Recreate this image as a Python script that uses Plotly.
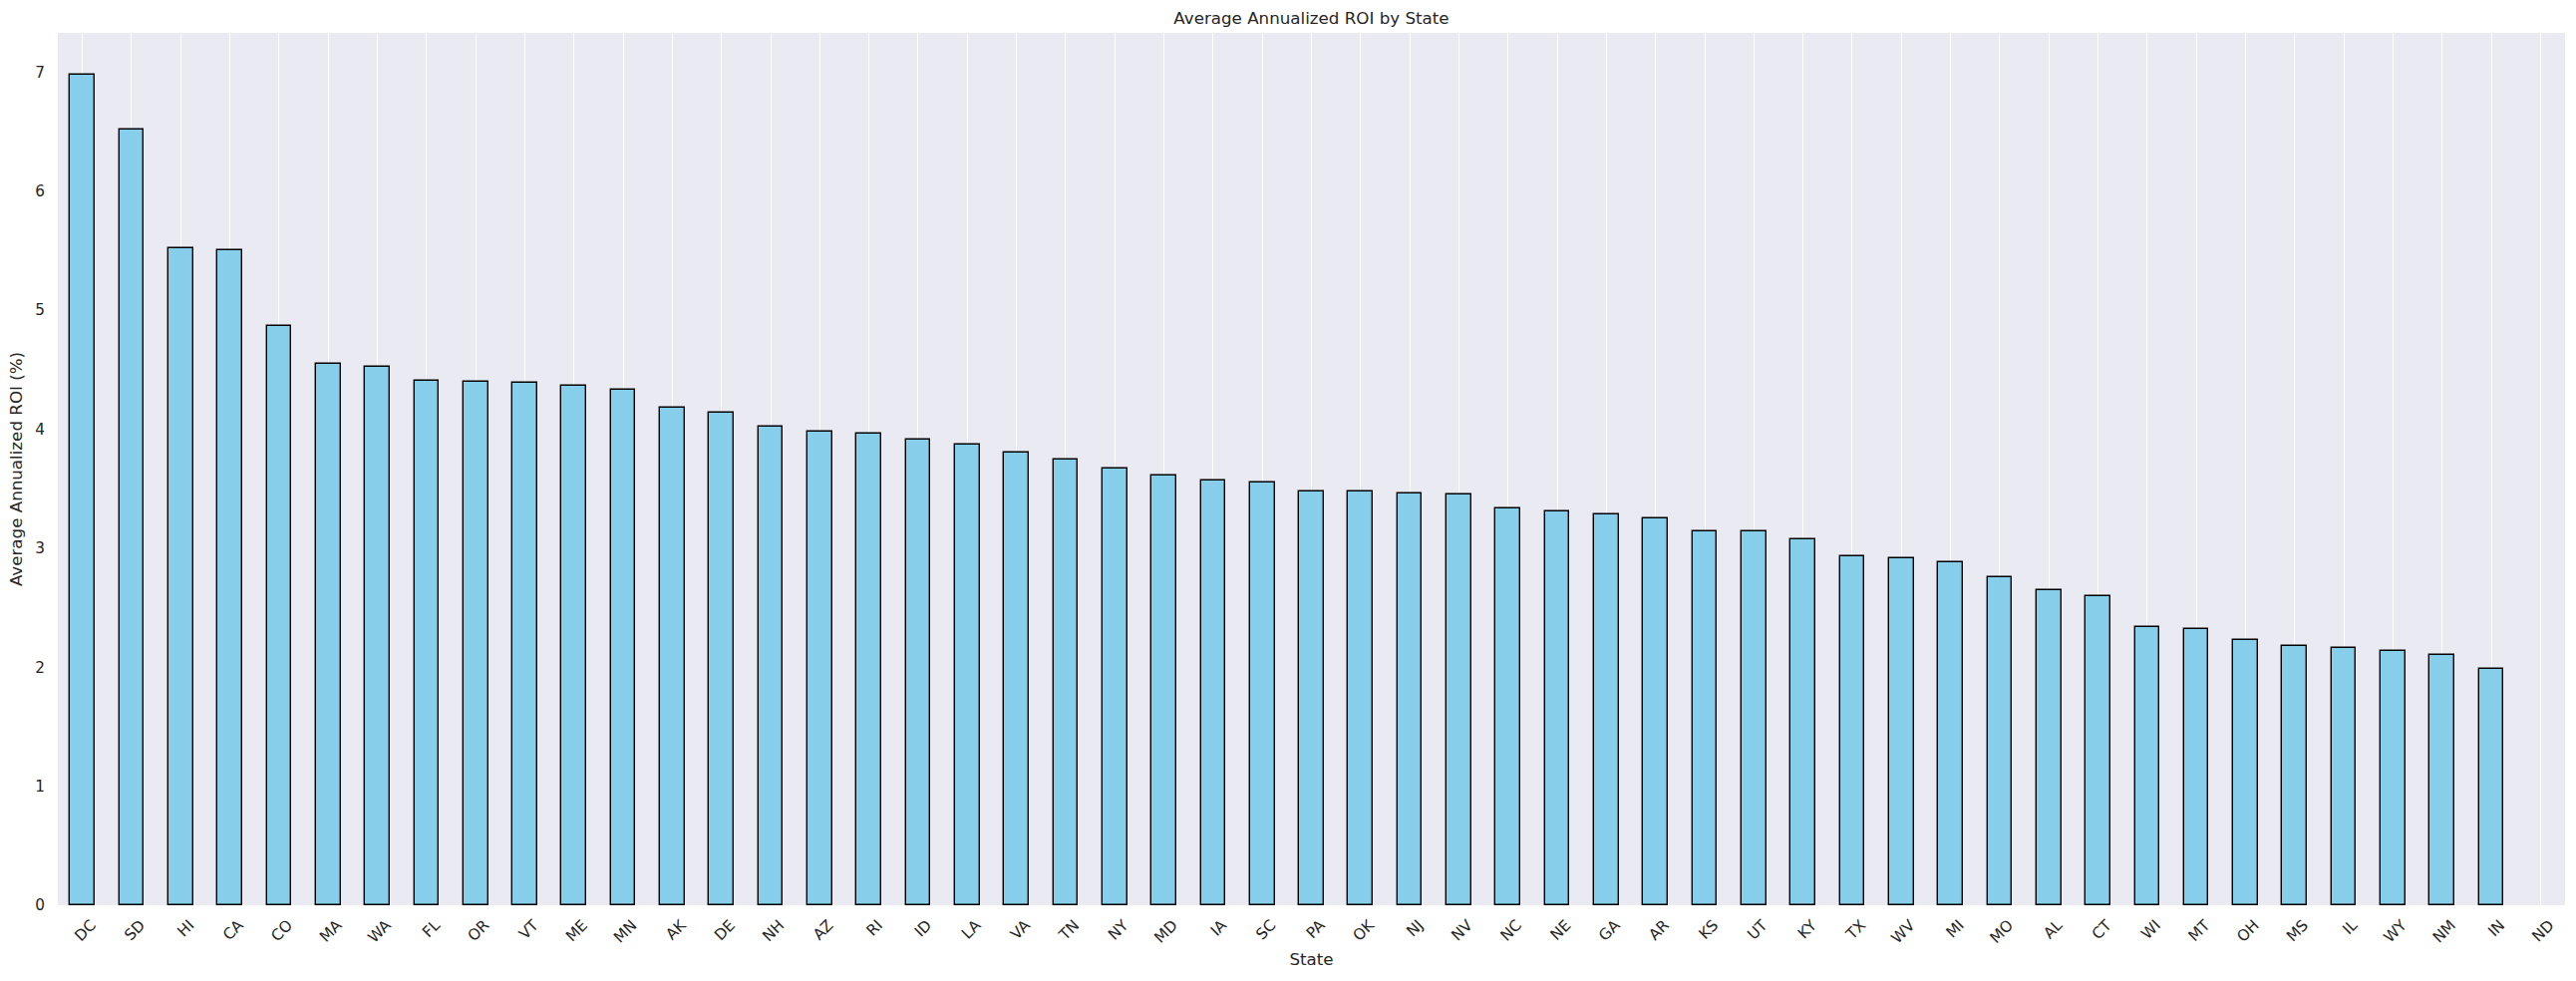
import plotly.graph_objects as go

states = ["DC", "SD", "HI", "CA", "CO", "MA", "WA", "FL", "OR", "VT", "ME", "MN", "AK", "DE",
          "NH", "AZ", "RI", "ID", "LA", "VA", "TN", "NY", "MD", "IA", "SC", "PA", "OK", "NJ",
          "NV", "NC", "NE", "GA", "AR", "KS", "UT", "KY", "TX", "WV", "MI", "MO", "AL", "CT",
          "WI", "MT", "OH", "MS", "IL", "WY", "NM", "IN", "ND"]
roi = [6.98, 6.52, 5.52, 5.50, 4.87, 4.545, 4.52, 4.41, 4.40, 4.385, 4.36, 4.33, 4.18, 4.14,
       4.02, 3.975, 3.965, 3.915, 3.87, 3.80, 3.745, 3.67, 3.61, 3.565, 3.55, 3.48, 3.48, 3.456,
       3.45, 3.33, 3.31, 3.28, 3.25, 3.14, 3.14, 3.07, 2.93, 2.915, 2.88, 2.755, 2.645, 2.60,
       2.335, 2.32, 2.225, 2.175, 2.16, 2.135, 2.10, 1.985, None]
y_ticks = [0, 1, 2, 3, 4, 5, 6, 7]

TEXT = "#262626"
FONT = "DejaVu Sans"

fig = go.Figure()
fig.add_trace(go.Bar(
    x=states, y=roi, width=0.5,
    marker=dict(color="#87CEEB", line=dict(color="black", width=1.4)),
))

ymax = max(v for v in roi if v is not None) * 1.05

fig.update_layout(
    width=2584, height=984,
    margin=dict(l=58, r=11, t=33, b=76),
    paper_bgcolor="white", plot_bgcolor="#EAEAF2",
    showlegend=False, bargap=0,
    font=dict(family=FONT, color=TEXT, size=15.3),
    title=dict(text="Average Annualized ROI by State", x=0.5, xref="paper", xanchor="center",
               y=1 - 18 / 984, yref="container", yanchor="middle",
               font=dict(family=FONT, size=16.7, color=TEXT)),
)
fig.update_xaxes(
    type="category", range=[-0.5, 50.5], tickangle=-45,
    showgrid=True, gridcolor="white", gridwidth=1.3,
    showline=False, zeroline=False, ticks="",
    tickfont=dict(family=FONT, size=15.3, color=TEXT),
    ticklabelstandoff=7, ticklabelshift=9,
    title=dict(text="State", font=dict(family=FONT, size=16.7, color=TEXT), standoff=7),
    automargin=False,
)
fig.update_yaxes(
    range=[0, ymax], tickvals=y_ticks, ticktext=[str(t) for t in y_ticks],
    showgrid=False, showline=False, zeroline=False, ticks="",
    tickfont=dict(family=FONT, size=15.3, color=TEXT),
    ticklabelstandoff=12,
    title=dict(text="Average Annualized ROI (%)", font=dict(family=FONT, size=16.7, color=TEXT), standoff=8),
    automargin=False,
)

fig.write_html("out.html", config={"displayModeBar": False},
               post_script="document.body.style.margin='0';document.body.style.overflow='hidden';")
